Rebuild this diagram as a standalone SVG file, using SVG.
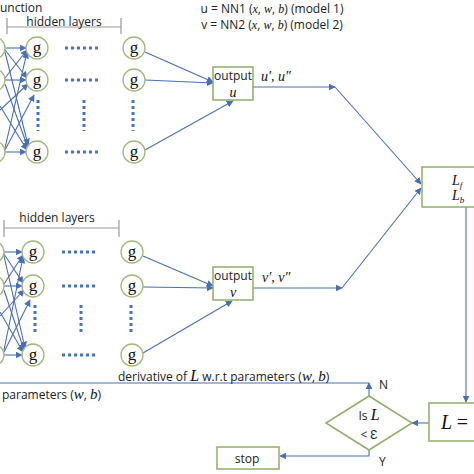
<svg xmlns="http://www.w3.org/2000/svg" width="474" height="474" viewBox="0 0 474 474">
<defs>
<marker id="ah" viewBox="0 0 10 10" refX="9" refY="5" markerWidth="7" markerHeight="7" orient="auto" markerUnits="userSpaceOnUse">
<path d="M0,0 L10,5 L0,10 z" fill="#4a6fb5"/>
</marker>
<style>
.c{fill:#fff;stroke:#a3b87c;stroke-width:1.3}
.b{fill:#fff;stroke:#8fae6a;stroke-width:1.5}
.g{font-family:"Liberation Serif","DejaVu Serif",serif;font-size:17px;text-anchor:middle;fill:#111}
.t{font-family:"Open Sans","Liberation Sans",sans-serif;font-size:12px;fill:#222}
.m{font-family:"Liberation Serif","DejaVu Serif",serif;font-style:italic;fill:#111}
.a{stroke:#4a6fb5;stroke-width:1.1;fill:none}
.aa{stroke:#4a6fb5;stroke-width:1.1;fill:none;marker-end:url(#ah)}
.dh{stroke:#4472c4;stroke-width:3;stroke-dasharray:3,3;fill:none}
.br{stroke:#999;stroke-width:1.2;fill:none}
</style>
</defs>
<rect width="474" height="474" fill="#fff"/>

<text class="t" x="0" y="11.5" font-size="11.5">unction</text>
<text class="t" x="272" y="13" text-anchor="middle" font-size="11.5">u = NN1 (<tspan class="m">x</tspan>, <tspan class="m">w</tspan>, <tspan class="m">b</tspan>) (model 1)</text>
<text class="t" x="272" y="29" text-anchor="middle" font-size="11.5">v = NN2 (<tspan class="m">x</tspan>, <tspan class="m">w</tspan>, <tspan class="m">b</tspan>) (model 2)</text>

<g id="bracket-top">
<path class="br" d="M7,18 V34 M7,27 H121 M121,18 V34"/>
<text class="t" x="64" y="25.5" text-anchor="middle" font-size="11.5">hidden layers</text>
</g>
<g id="bracket-bottom">
<path class="br" d="M4,220 V237 M4,228 H119 M119,220 V237"/>
<text class="t" x="57" y="222" text-anchor="middle">hidden layers</text>
</g>

<g id="connectors">
<path class="aa" d="M5,48 L26,48"/>
<path class="aa" d="M5,50 L27,78"/>
<path class="aa" d="M5,52 L28,145"/>
<path class="aa" d="M5,78 L27,50"/>
<path class="aa" d="M5,80 L26,80"/>
<path class="aa" d="M5,84 L28,148"/>
<path class="aa" d="M0,106 L27,150"/>
<path class="aa" d="M0,110 L28,84"/>
<path class="aa" d="M5,148 L27,52"/>
<path class="aa" d="M5,150 L34,95"/>
<path class="aa" d="M5,152 L26,152"/>
<path class="aa" d="M4,252 L22,252"/>
<path class="aa" d="M4,254 L23,283"/>
<path class="aa" d="M4,256 L25,348"/>
<path class="aa" d="M4,284 L23,255"/>
<path class="aa" d="M4,286 L22,286"/>
<path class="aa" d="M4,290 L24,350"/>
<path class="aa" d="M0,312 L23,352"/>
<path class="aa" d="M0,316 L24,290"/>
<path class="aa" d="M4,350 L23,257"/>
<path class="aa" d="M4,352 L30,300"/>
<path class="aa" d="M4,355 L22,355"/>
<path class="aa" d="M145,52 L213,82"/>
<path class="aa" d="M145,80 L213,83"/>
<path class="aa" d="M145,150 L233,101"/>
<path class="aa" d="M143,256 L213,286"/>
<path class="aa" d="M143,287 L213,288"/>
<path class="aa" d="M143,353 L232,301"/>
<path class="aa" d="M253,87 L335,87"/>
<path class="aa" d="M335,87 L421,184"/>
<path class="aa" d="M253,288 L342,288"/>
<path class="aa" d="M342,288 L421,188"/>
<path class="aa" d="M466,207 L466,402"/>
<path class="aa" d="M429,423 L412,423"/>
<path class="a" d="M0,383 H369"/>
<path class="aa" d="M369,396 L369,383"/>
<path class="aa" d="M369,450 V456 H280"/>
</g>

<g id="dots">
<path class="dh" d="M65,48 H101 M65,80 H101 M65,152 H101"/>
<path class="dh" d="M38,100 V131 M84,100 V131 M133,100 V131"/>
<path class="dh" d="M62,252 H98 M62,286 H98 M62,355 H98"/>
<path class="dh" d="M35,305 V335 M81,305 V335 M131,305 V335"/>
</g>

<g id="inputs">
<circle class="c" cx="-6" cy="48" r="11"/>
<circle class="c" cx="-6" cy="80" r="11"/>
<circle class="c" cx="-6" cy="152" r="11"/>
<circle class="c" cx="-7" cy="252" r="11"/>
<circle class="c" cx="-7" cy="286" r="11"/>
<circle class="c" cx="-7" cy="355" r="11"/>
</g>

<g id="g-top-1-1"><circle class="c" cx="37" cy="48" r="11"/><text class="g" x="37" y="53">g</text></g>
<g id="g-top-1-2"><circle class="c" cx="37" cy="80" r="11"/><text class="g" x="37" y="85">g</text></g>
<g id="g-top-1-3"><circle class="c" cx="37" cy="152" r="11"/><text class="g" x="37" y="157">g</text></g>
<g id="g-top-2-1"><circle class="c" cx="134" cy="48" r="11"/><text class="g" x="134" y="53">g</text></g>
<g id="g-top-2-2"><circle class="c" cx="134" cy="80" r="11"/><text class="g" x="134" y="85">g</text></g>
<g id="g-top-2-3"><circle class="c" cx="134" cy="152" r="11"/><text class="g" x="134" y="157">g</text></g>

<g id="g-bot-1-1"><circle class="c" cx="33" cy="252" r="11"/><text class="g" x="33" y="257">g</text></g>
<g id="g-bot-1-2"><circle class="c" cx="33" cy="286" r="11"/><text class="g" x="33" y="291">g</text></g>
<g id="g-bot-1-3"><circle class="c" cx="33" cy="355" r="11"/><text class="g" x="33" y="360">g</text></g>
<g id="g-bot-2-1"><circle class="c" cx="132" cy="252" r="11"/><text class="g" x="132" y="257">g</text></g>
<g id="g-bot-2-2"><circle class="c" cx="132" cy="286" r="11"/><text class="g" x="132" y="291">g</text></g>
<g id="g-bot-2-3"><circle class="c" cx="132" cy="355" r="11"/><text class="g" x="132" y="360">g</text></g>

<g id="output-u">
<rect class="b" x="213" y="67" width="40" height="33"/>
<text class="t" x="233" y="79.5" text-anchor="middle" font-size="11.5">output</text>
<text class="m" x="233" y="96.5" font-size="14" text-anchor="middle">u</text>
</g>
<text class="m" x="261" y="81" font-size="14">u′, u″</text>

<g id="output-v">
<rect class="b" x="213" y="267" width="40" height="33"/>
<text class="t" x="233" y="279.5" text-anchor="middle" font-size="11.5">output</text>
<text class="m" x="233" y="296.5" font-size="14" text-anchor="middle">v</text>
</g>
<text class="m" x="262" y="282" font-size="14">v′, v″</text>

<g id="loss-box">
<rect class="b" x="422" y="167" width="60" height="40"/>
<text class="m" x="452" y="185" font-size="14">L<tspan font-size="9" dy="3">f</tspan></text>
<text class="m" x="452" y="200" font-size="14">L<tspan font-size="9" dy="3">b</tspan></text>
</g>

<g id="L-box">
<rect class="b" x="429" y="403" width="55" height="38"/>
<text class="m" x="441" y="429" font-size="20">L <tspan font-style="normal">=</tspan></text>
</g>

<g id="diamond">
<path class="b" d="M369,396 L412,423 L369,450 L326,423 Z"/>
<text class="t" x="369" y="420" text-anchor="middle" font-size="14">Is <tspan class="m" font-size="16">L</tspan></text>
<text class="t" x="369" y="439" text-anchor="middle" font-size="14">&lt; Ɛ</text>
</g>
<text class="t" x="379" y="389">N</text>
<text class="t" x="379" y="466">Y</text>

<g id="stop">
<rect class="b" x="217" y="447" width="62" height="22"/>
<text class="t" x="247" y="463" text-anchor="middle" font-size="15">stop</text>
</g>

<text class="t" x="118" y="381" font-size="14.5">derivative of <tspan class="m" font-size="16">L</tspan> w.r.t parameters (<tspan class="m" font-size="15">w</tspan>, <tspan class="m" font-size="15">b</tspan>)</text>
<text class="t" x="2" y="399" font-size="14.5">parameters (<tspan class="m" font-size="15">w</tspan>, <tspan class="m" font-size="15">b</tspan>)</text>
</svg>
